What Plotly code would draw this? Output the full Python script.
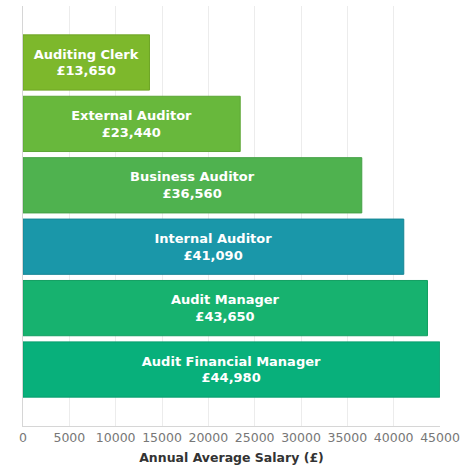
import plotly.graph_objects as go

# Job roles, top to bottom
roles = ["Auditing Clerk", "External Auditor", "Business Auditor",
         "Internal Auditor", "Audit Manager", "Audit Financial Manager"]
salaries = [13650, 23440, 36560, 41090, 43650, 44980]
bar_colors = ["#7db82c", "#68b83c", "#4fb24f", "#1a97a9", "#17b26f", "#08b07b"]
line_colors = ["#6fa526", "#5ba534", "#44a045", "#158594", "#139f62", "#069d6d"]

labels = ["<b>%s</b><br><b>£%s</b>" % (r, f"{s:,}") for r, s in zip(roles, salaries)]

fig = go.Figure(go.Bar(
    x=salaries,
    y=roles,
    orientation="h",
    text=labels,
    textposition="inside",
    insidetextanchor="middle",
    textangle=0,
    textfont=dict(family="DejaVu Sans", size=13, color="white"),
    marker=dict(color=bar_colors, line=dict(color=line_colors, width=1)),
    width=0.9,
    hoverinfo="skip",
))

fig.update_layout(
    width=474, height=474,
    margin=dict(l=23, r=34, t=6, b=48),
    paper_bgcolor="white",
    plot_bgcolor="white",
    showlegend=False,
    uniformtext=dict(minsize=13, mode="show"),
    font=dict(family="DejaVu Sans"),
)
fig.update_xaxes(
    range=[0, 45000],
    dtick=5000,
    tickformat="d",
    automargin=False,
    showgrid=True,
    gridcolor="#ececec",
    showline=True,
    linecolor="#d6d6d6",
    zeroline=False,
    ticks="",
    tickfont=dict(size=12.5, color="#777777"),
    title=dict(text="<b>Annual Average Salary (£)</b>",
               font=dict(size=12.5, color="#333333"), standoff=9),
)
fig.update_yaxes(
    categoryorder="array",
    categoryarray=roles,
    range=[5.92, -0.92],
    automargin=False,
    showticklabels=False,
    showgrid=False,
    showline=True,
    linecolor="#d6d6d6",
    zeroline=False,
)

# drop the page's default body margin so the figure sits at the window origin
fig.write_html("out.html", config={"displayModeBar": False},
               post_script="document.body.style.margin = '0';")
